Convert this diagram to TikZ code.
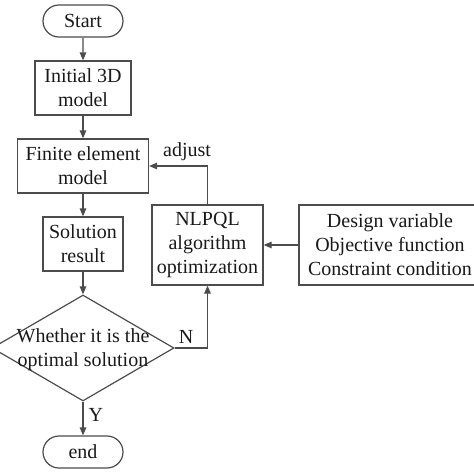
\documentclass[tikz,border=0pt]{standalone}
\usepackage{fontspec}
\setmainfont{Liberation Serif}
\usetikzlibrary{shapes.geometric,shapes.misc,arrows.meta}
\begin{document}
\begin{tikzpicture}[x=1pt,y=-1pt,
  every node/.style={font=\fontsize{20}{24}\selectfont, text=black!90},
  line/.style={draw=black!70, line width=1.2pt},
  arr/.style={line, -{Triangle[length=8pt,width=6.5pt]}},
  proc/.style={line, rectangle, minimum height=54pt, inner sep=0pt, align=center},
  term/.style={line, rounded rectangle, minimum width=80pt, minimum height=32pt, inner sep=0pt},
  lbl/.style={inner sep=0pt}]
\useasboundingbox (0,0) rectangle (474,474);
\clip (0,0) rectangle (474,474);
\node[term] (start) at (83,21) {Start};
\node[proc, minimum width=96pt] (init) at (83,88) {Initial 3D\\model};
\node[proc, minimum width=131pt] (fem) at (83,166) {Finite element\\model};
\node[proc, minimum width=80pt] (sol) at (83,244) {Solution\\result};
\node[line, diamond, minimum width=182pt, minimum height=106pt, inner sep=0pt] (dec) at (83,348) {};
\node[align=center, inner sep=0pt] (dectext) at (83,350) {Whether it is the\\optimal solution};
\node[term] (end) at (83,452) {end};
\node[proc, minimum width=111pt, minimum height=80pt] (nlp) at (207.5,245) {NLPQL\\algorithm\\optimization};
\node[proc, minimum width=182pt, minimum height=80pt] (des) at (390,245) {Design variable\\Objective function\\Constraint condition};
\draw[arr] (start) -- (init);
\draw[arr] (init) -- (fem);
\draw[arr] (fem) -- (sol);
\draw[arr] (sol) -- (dec);
\draw[arr] (dec) -- node[lbl, right=5pt, pos=0.4] (y) {Y} (end);
\draw[arr] (dec.east) -- node[lbl, above=4pt, pos=0.35] (n) {N} (dec.east -| nlp.south) -- (nlp.south);
\draw[arr] (des.west) -- (nlp.east);
\draw[arr] (nlp.north) -- (nlp.north |- fem.east) -- node[lbl, above=5pt, pos=0.35] (adj) {adjust} (fem.east);
\end{tikzpicture}
\end{document}
